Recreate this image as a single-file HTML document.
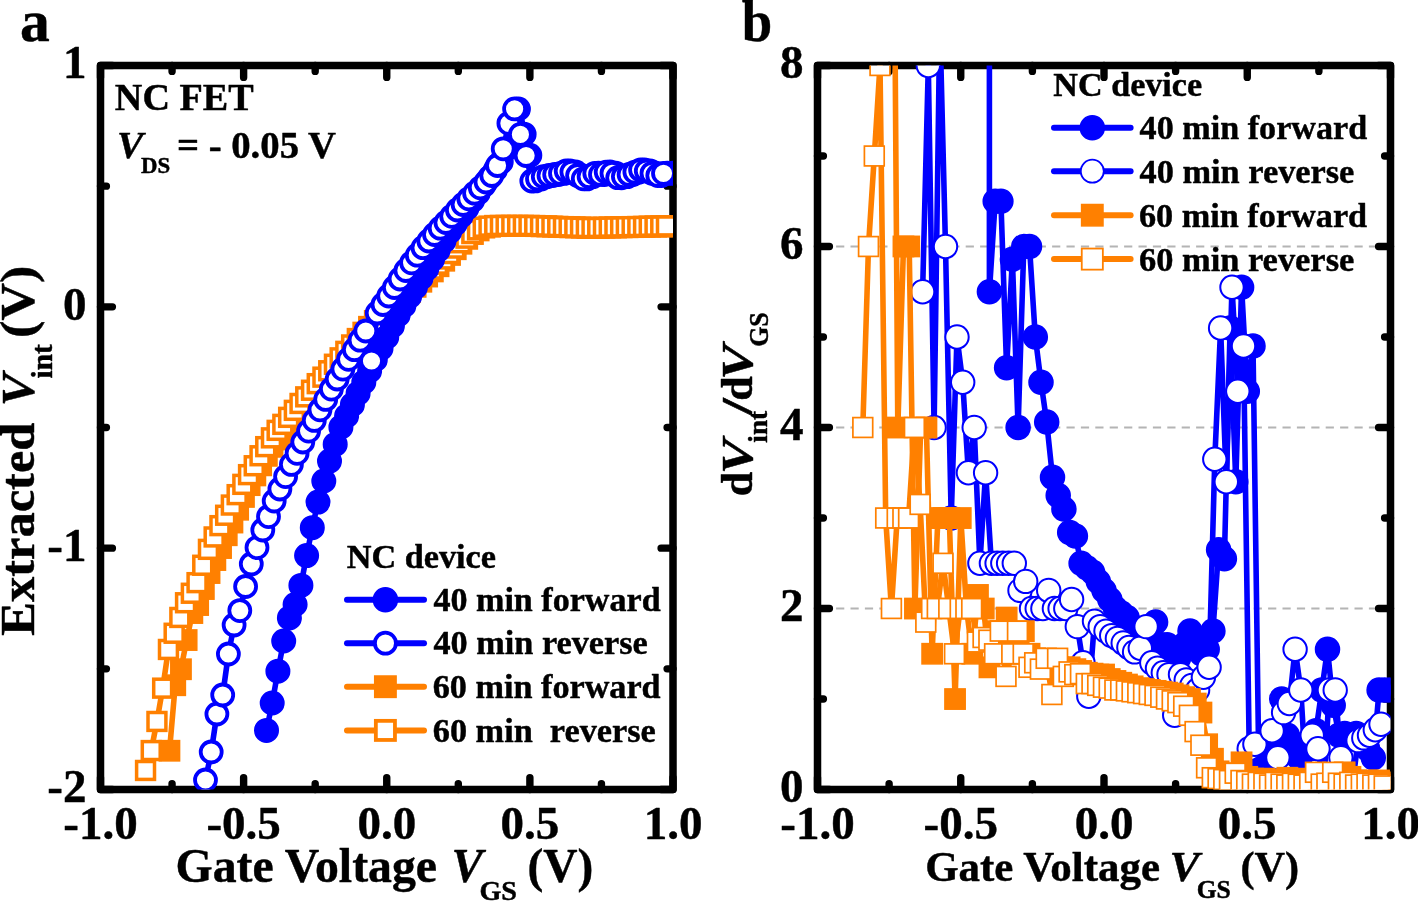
<!DOCTYPE html>
<html><head><meta charset="utf-8"><title>Figure</title><style>html,body{margin:0;padding:0;background:#fff}svg{display:block}</style></head><body>
<svg width="1418" height="901" viewBox="0 0 1418 901" font-family="'Liberation Serif', serif" font-weight="bold" stroke-linejoin="round">
<style>text{stroke:#000;stroke-width:0.45px}</style>
<rect width="1418" height="901" fill="#fff"/>
<defs>
<clipPath id="ca"><rect x="100.5" y="65.5" width="572.5" height="724.0"/></clipPath>
<clipPath id="cb"><rect x="817.5" y="65.5" width="573.0" height="724.0"/></clipPath>
</defs>
<line x1="817.5" x2="1390.5" y1="608.5" y2="608.5" stroke="#b4b4b4" stroke-width="1.8" stroke-dasharray="8.2 6.2" stroke-dashoffset="10.2"/>
<line x1="817.5" x2="1390.5" y1="427.5" y2="427.5" stroke="#b4b4b4" stroke-width="1.8" stroke-dasharray="8.2 6.2" stroke-dashoffset="10.2"/>
<line x1="817.5" x2="1390.5" y1="246.5" y2="246.5" stroke="#b4b4b4" stroke-width="1.8" stroke-dasharray="8.2 6.2" stroke-dashoffset="10.2"/>
<path d="M100.50 789.50v-11.9M100.50 65.50v11.9M243.62 789.50v-11.9M243.62 65.50v11.9M386.75 789.50v-11.9M386.75 65.50v11.9M529.88 789.50v-11.9M529.88 65.50v11.9M673.00 789.50v-11.9M673.00 65.50v11.9M172.06 789.50v-5.9M172.06 65.50v5.9M315.19 789.50v-5.9M315.19 65.50v5.9M458.31 789.50v-5.9M458.31 65.50v5.9M601.44 789.50v-5.9M601.44 65.50v5.9M100.50 65.50h11.9M673.00 65.50h-11.9M100.50 306.83h11.9M673.00 306.83h-11.9M100.50 548.17h11.9M673.00 548.17h-11.9M100.50 789.50h11.9M673.00 789.50h-11.9M100.50 186.17h5.9M673.00 186.17h-5.9M100.50 427.50h5.9M673.00 427.50h-5.9M100.50 668.83h5.9M673.00 668.83h-5.9" stroke="#000" stroke-width="7.4" stroke-linecap="round" fill="none"/>
<rect x="100.5" y="65.5" width="572.5" height="724.0" fill="none" stroke="#000" stroke-width="7.5" stroke-linejoin="round"/>
<path d="M817.50 789.50v-11.9M817.50 65.50v11.9M960.75 789.50v-11.9M960.75 65.50v11.9M1104.00 789.50v-11.9M1104.00 65.50v11.9M1247.25 789.50v-11.9M1247.25 65.50v11.9M1390.50 789.50v-11.9M1390.50 65.50v11.9M889.12 789.50v-5.9M889.12 65.50v5.9M1032.38 789.50v-5.9M1032.38 65.50v5.9M1175.62 789.50v-5.9M1175.62 65.50v5.9M1318.88 789.50v-5.9M1318.88 65.50v5.9M817.50 789.50h11.9M1390.50 789.50h-11.9M817.50 608.50h11.9M1390.50 608.50h-11.9M817.50 427.50h11.9M1390.50 427.50h-11.9M817.50 246.50h11.9M1390.50 246.50h-11.9M817.50 65.50h11.9M1390.50 65.50h-11.9M817.50 699.00h5.9M1390.50 699.00h-5.9M817.50 518.00h5.9M1390.50 518.00h-5.9M817.50 337.00h5.9M1390.50 337.00h-5.9M817.50 156.00h5.9M1390.50 156.00h-5.9" stroke="#000" stroke-width="7.4" stroke-linecap="round" fill="none"/>
<rect x="817.5" y="65.5" width="573.0" height="724.0" fill="none" stroke="#000" stroke-width="7.5" stroke-linejoin="round"/>
<g clip-path="url(#ca)">
<path d="M169.5 750.7 L175.2 685.3 L180.9 669.3 L186.7 640.0 L192.4 613.0 L198.1 605.0 L203.8 589.0 L209.6 573.0 L215.3 560.0 L221.0 548.1 L226.8 535.3 L232.5 522.5 L238.2 509.8 L243.9 497.0 L249.6 485.1 L255.4 475.5 L261.1 465.4 L266.8 455.9 L272.6 446.9 L278.3 439.5 L284.0 432.9 L289.7 425.6 L295.4 418.3 L301.2 411.1 L306.9 404.3 L312.6 397.5 L318.4 390.7 L324.1 384.0 L329.8 377.3 L335.5 370.6 L341.2 363.9 L347.0 357.3 L352.7 350.6 L358.4 343.9 L364.1 337.7 L369.9 331.6 L375.6 325.5 L381.3 319.5 L387.0 313.8 L392.8 308.2 L398.5 302.5 L404.2 297.2 L409.9 292.0 L415.7 286.9 L421.4 281.7 L427.1 276.6 L432.8 271.4 L438.6 266.3 L444.3 260.7 L450.0 255.0 L455.8 249.2 L461.5 243.7 L467.2 238.9 L472.9 234.0 L478.6 230.4 L484.4 227.7 L490.1 226.7 L495.8 226.1 L501.5 226.0 L507.3 226.0 L513.0 225.9 L518.7 225.9 L524.5 225.9 L530.2 225.9 L535.9 226.1 L541.6 226.3 L547.3 226.5 L553.1 226.7 L558.8 227.0 L564.5 227.2 L570.2 227.4 L576.0 227.6 L581.7 227.8 L587.4 228.0 L593.1 228.0 L598.9 227.9 L604.6 227.8 L610.3 227.7 L616.0 227.5 L621.8 227.4 L627.5 227.3 L633.2 227.1 L639.0 227.0 L644.7 226.9 L650.4 226.8 L656.1 226.6 L661.8 226.5 L667.6 226.4 L673.3 226.4" fill="none" stroke="#ff8000" stroke-width="5.6" stroke-linejoin="round"/>
<g fill="#ff8000" stroke="#ff8000" stroke-width="1.5" stroke-linejoin="miter">
<rect x="159.3" y="740.6" width="20.30" height="20.30"/>
<rect x="165.1" y="675.1" width="20.30" height="20.30"/>
<rect x="170.8" y="659.1" width="20.30" height="20.30"/>
<rect x="176.5" y="629.9" width="20.30" height="20.30"/>
<rect x="182.2" y="602.9" width="20.30" height="20.30"/>
<rect x="188.0" y="594.9" width="20.30" height="20.30"/>
<rect x="193.7" y="578.9" width="20.30" height="20.30"/>
<rect x="199.4" y="562.9" width="20.30" height="20.30"/>
<rect x="205.2" y="549.9" width="20.30" height="20.30"/>
<rect x="210.9" y="537.9" width="20.30" height="20.30"/>
<rect x="216.6" y="525.1" width="20.30" height="20.30"/>
<rect x="222.3" y="512.4" width="20.30" height="20.30"/>
<rect x="228.0" y="499.6" width="20.30" height="20.30"/>
<rect x="233.8" y="486.8" width="20.30" height="20.30"/>
<rect x="239.5" y="475.0" width="20.30" height="20.30"/>
<rect x="245.2" y="465.3" width="20.30" height="20.30"/>
<rect x="251.0" y="455.2" width="20.30" height="20.30"/>
<rect x="256.7" y="445.7" width="20.30" height="20.30"/>
<rect x="262.4" y="436.7" width="20.30" height="20.30"/>
<rect x="268.1" y="429.4" width="20.30" height="20.30"/>
<rect x="273.9" y="422.8" width="20.30" height="20.30"/>
<rect x="279.6" y="415.5" width="20.30" height="20.30"/>
<rect x="285.3" y="408.2" width="20.30" height="20.30"/>
<rect x="291.0" y="401.0" width="20.30" height="20.30"/>
<rect x="296.8" y="394.1" width="20.30" height="20.30"/>
<rect x="302.5" y="387.3" width="20.30" height="20.30"/>
<rect x="308.2" y="380.5" width="20.30" height="20.30"/>
<rect x="313.9" y="373.8" width="20.30" height="20.30"/>
<rect x="319.6" y="367.1" width="20.30" height="20.30"/>
<rect x="325.4" y="360.5" width="20.30" height="20.30"/>
<rect x="331.1" y="353.8" width="20.30" height="20.30"/>
<rect x="336.8" y="347.1" width="20.30" height="20.30"/>
<rect x="342.6" y="340.5" width="20.30" height="20.30"/>
<rect x="348.3" y="333.8" width="20.30" height="20.30"/>
<rect x="354.0" y="327.5" width="20.30" height="20.30"/>
<rect x="359.7" y="321.4" width="20.30" height="20.30"/>
<rect x="365.5" y="315.3" width="20.30" height="20.30"/>
<rect x="371.2" y="309.3" width="20.30" height="20.30"/>
<rect x="376.9" y="303.7" width="20.30" height="20.30"/>
<rect x="382.6" y="298.0" width="20.30" height="20.30"/>
<rect x="388.4" y="292.3" width="20.30" height="20.30"/>
<rect x="394.1" y="287.0" width="20.30" height="20.30"/>
<rect x="399.8" y="281.9" width="20.30" height="20.30"/>
<rect x="405.5" y="276.7" width="20.30" height="20.30"/>
<rect x="411.2" y="271.6" width="20.30" height="20.30"/>
<rect x="417.0" y="266.4" width="20.30" height="20.30"/>
<rect x="422.7" y="261.3" width="20.30" height="20.30"/>
<rect x="428.4" y="256.1" width="20.30" height="20.30"/>
<rect x="434.1" y="250.6" width="20.30" height="20.30"/>
<rect x="439.9" y="244.8" width="20.30" height="20.30"/>
<rect x="445.6" y="239.1" width="20.30" height="20.30"/>
<rect x="451.3" y="233.6" width="20.30" height="20.30"/>
<rect x="457.1" y="228.7" width="20.30" height="20.30"/>
<rect x="462.8" y="223.9" width="20.30" height="20.30"/>
<rect x="468.5" y="220.3" width="20.30" height="20.30"/>
<rect x="474.2" y="217.5" width="20.30" height="20.30"/>
<rect x="479.9" y="216.6" width="20.30" height="20.30"/>
<rect x="485.7" y="216.0" width="20.30" height="20.30"/>
<rect x="491.4" y="215.8" width="20.30" height="20.30"/>
<rect x="497.1" y="215.8" width="20.30" height="20.30"/>
<rect x="502.9" y="215.8" width="20.30" height="20.30"/>
<rect x="508.6" y="215.8" width="20.30" height="20.30"/>
<rect x="514.3" y="215.8" width="20.30" height="20.30"/>
<rect x="520.0" y="215.8" width="20.30" height="20.30"/>
<rect x="525.8" y="216.0" width="20.30" height="20.30"/>
<rect x="531.5" y="216.2" width="20.30" height="20.30"/>
<rect x="537.2" y="216.4" width="20.30" height="20.30"/>
<rect x="542.9" y="216.6" width="20.30" height="20.30"/>
<rect x="548.6" y="216.8" width="20.30" height="20.30"/>
<rect x="554.4" y="217.0" width="20.30" height="20.30"/>
<rect x="560.1" y="217.2" width="20.30" height="20.30"/>
<rect x="565.8" y="217.4" width="20.30" height="20.30"/>
<rect x="571.6" y="217.6" width="20.30" height="20.30"/>
<rect x="577.3" y="217.9" width="20.30" height="20.30"/>
<rect x="583.0" y="217.9" width="20.30" height="20.30"/>
<rect x="588.7" y="217.8" width="20.30" height="20.30"/>
<rect x="594.4" y="217.6" width="20.30" height="20.30"/>
<rect x="600.2" y="217.5" width="20.30" height="20.30"/>
<rect x="605.9" y="217.4" width="20.30" height="20.30"/>
<rect x="611.6" y="217.2" width="20.30" height="20.30"/>
<rect x="617.4" y="217.1" width="20.30" height="20.30"/>
<rect x="623.1" y="217.0" width="20.30" height="20.30"/>
<rect x="628.8" y="216.9" width="20.30" height="20.30"/>
<rect x="634.5" y="216.7" width="20.30" height="20.30"/>
<rect x="640.2" y="216.6" width="20.30" height="20.30"/>
<rect x="646.0" y="216.5" width="20.30" height="20.30"/>
<rect x="651.7" y="216.4" width="20.30" height="20.30"/>
<rect x="657.4" y="216.2" width="20.30" height="20.30"/>
<rect x="663.1" y="216.2" width="20.30" height="20.30"/>
</g></g>
<g clip-path="url(#ca)">
<path d="M145.5 770.5 L151.2 750.6 L156.9 721.5 L162.7 688.1 L168.4 649.5 L174.1 633.2 L179.8 617.4 L185.6 602.8 L191.3 593.3 L197.0 582.6 L202.8 565.3 L208.5 549.3 L214.2 537.0 L219.9 525.7 L225.6 515.3 L231.4 505.0 L237.1 494.7 L242.8 484.4 L248.6 474.6 L254.3 465.8 L260.0 455.8 L265.7 446.6 L271.4 437.8 L277.2 430.4 L282.9 424.3 L288.6 417.3 L294.4 410.4 L300.1 403.4 L305.8 396.8 L311.5 390.2 L317.2 383.7 L323.0 377.2 L328.7 370.7 L334.4 364.3 L340.1 357.8 L345.9 351.4 L351.6 344.9 L357.3 338.5 L363.0 332.4 L368.8 326.5 L374.5 320.6 L380.2 314.8 L385.9 309.3 L391.7 303.9 L397.4 298.5 L403.1 293.3 L408.8 288.5 L414.6 283.6 L420.3 278.7 L426.0 273.9 L431.8 269.0 L437.5 264.1 L443.2 259.0 L448.9 253.5 L454.6 248.1 L460.4 242.7 L466.1 238.1 L471.8 233.5 L477.5 229.9 L483.3 227.3 L489.0 226.1 L494.7 225.5 L500.4 225.5 L506.2 225.5 L511.9 225.5 L517.6 225.4 L523.3 225.4 L529.1 225.4 L534.8 225.6 L540.5 225.8 L546.2 226.0 L552.0 226.2 L557.7 226.4 L563.4 226.6 L569.1 226.8 L574.9 227.0 L580.6 227.3 L586.3 227.5 L592.0 227.6 L597.8 227.4 L603.5 227.3 L609.2 227.2 L615.0 227.0 L620.7 226.9 L626.4 226.8 L632.1 226.7 L637.8 226.5 L643.6 226.4 L649.3 226.3 L655.0 226.2 L660.8 226.0 L666.5 225.9" fill="none" stroke="#ff8000" stroke-width="5.6" stroke-linejoin="round"/>
<g fill="#fff" stroke="#ff8000" stroke-width="3.5" stroke-linejoin="miter">
<rect x="136.6" y="761.5" width="17.90" height="17.90"/>
<rect x="142.3" y="741.6" width="17.90" height="17.90"/>
<rect x="148.0" y="712.5" width="17.90" height="17.90"/>
<rect x="153.7" y="679.2" width="17.90" height="17.90"/>
<rect x="159.5" y="640.5" width="17.90" height="17.90"/>
<rect x="165.2" y="624.3" width="17.90" height="17.90"/>
<rect x="170.9" y="608.5" width="17.90" height="17.90"/>
<rect x="176.6" y="593.8" width="17.90" height="17.90"/>
<rect x="182.4" y="584.3" width="17.90" height="17.90"/>
<rect x="188.1" y="573.7" width="17.90" height="17.90"/>
<rect x="193.8" y="556.3" width="17.90" height="17.90"/>
<rect x="199.5" y="540.4" width="17.90" height="17.90"/>
<rect x="205.2" y="528.0" width="17.90" height="17.90"/>
<rect x="211.0" y="516.7" width="17.90" height="17.90"/>
<rect x="216.7" y="506.3" width="17.90" height="17.90"/>
<rect x="222.4" y="496.1" width="17.90" height="17.90"/>
<rect x="228.2" y="485.7" width="17.90" height="17.90"/>
<rect x="233.9" y="475.4" width="17.90" height="17.90"/>
<rect x="239.6" y="465.7" width="17.90" height="17.90"/>
<rect x="245.3" y="456.8" width="17.90" height="17.90"/>
<rect x="251.1" y="446.8" width="17.90" height="17.90"/>
<rect x="256.8" y="437.7" width="17.90" height="17.90"/>
<rect x="262.5" y="428.9" width="17.90" height="17.90"/>
<rect x="268.2" y="421.4" width="17.90" height="17.90"/>
<rect x="273.9" y="415.4" width="17.90" height="17.90"/>
<rect x="279.7" y="408.4" width="17.90" height="17.90"/>
<rect x="285.4" y="401.4" width="17.90" height="17.90"/>
<rect x="291.1" y="394.5" width="17.90" height="17.90"/>
<rect x="296.8" y="387.9" width="17.90" height="17.90"/>
<rect x="302.6" y="381.3" width="17.90" height="17.90"/>
<rect x="308.3" y="374.7" width="17.90" height="17.90"/>
<rect x="314.0" y="368.2" width="17.90" height="17.90"/>
<rect x="319.8" y="361.8" width="17.90" height="17.90"/>
<rect x="325.5" y="355.3" width="17.90" height="17.90"/>
<rect x="331.2" y="348.9" width="17.90" height="17.90"/>
<rect x="336.9" y="342.4" width="17.90" height="17.90"/>
<rect x="342.7" y="336.0" width="17.90" height="17.90"/>
<rect x="348.4" y="329.6" width="17.90" height="17.90"/>
<rect x="354.1" y="323.4" width="17.90" height="17.90"/>
<rect x="359.8" y="317.6" width="17.90" height="17.90"/>
<rect x="365.6" y="311.7" width="17.90" height="17.90"/>
<rect x="371.3" y="305.8" width="17.90" height="17.90"/>
<rect x="377.0" y="300.4" width="17.90" height="17.90"/>
<rect x="382.7" y="295.0" width="17.90" height="17.90"/>
<rect x="388.4" y="289.5" width="17.90" height="17.90"/>
<rect x="394.2" y="284.4" width="17.90" height="17.90"/>
<rect x="399.9" y="279.5" width="17.90" height="17.90"/>
<rect x="405.6" y="274.7" width="17.90" height="17.90"/>
<rect x="411.3" y="269.8" width="17.90" height="17.90"/>
<rect x="417.1" y="264.9" width="17.90" height="17.90"/>
<rect x="422.8" y="260.1" width="17.90" height="17.90"/>
<rect x="428.5" y="255.2" width="17.90" height="17.90"/>
<rect x="434.2" y="250.0" width="17.90" height="17.90"/>
<rect x="440.0" y="244.6" width="17.90" height="17.90"/>
<rect x="445.7" y="239.1" width="17.90" height="17.90"/>
<rect x="451.4" y="233.8" width="17.90" height="17.90"/>
<rect x="457.1" y="229.2" width="17.90" height="17.90"/>
<rect x="462.9" y="224.6" width="17.90" height="17.90"/>
<rect x="468.6" y="220.9" width="17.90" height="17.90"/>
<rect x="474.3" y="218.3" width="17.90" height="17.90"/>
<rect x="480.1" y="217.2" width="17.90" height="17.90"/>
<rect x="485.8" y="216.6" width="17.90" height="17.90"/>
<rect x="491.5" y="216.5" width="17.90" height="17.90"/>
<rect x="497.2" y="216.5" width="17.90" height="17.90"/>
<rect x="502.9" y="216.5" width="17.90" height="17.90"/>
<rect x="508.7" y="216.5" width="17.90" height="17.90"/>
<rect x="514.4" y="216.5" width="17.90" height="17.90"/>
<rect x="520.1" y="216.5" width="17.90" height="17.90"/>
<rect x="525.8" y="216.6" width="17.90" height="17.90"/>
<rect x="531.6" y="216.8" width="17.90" height="17.90"/>
<rect x="537.3" y="217.0" width="17.90" height="17.90"/>
<rect x="543.0" y="217.3" width="17.90" height="17.90"/>
<rect x="548.8" y="217.5" width="17.90" height="17.90"/>
<rect x="554.5" y="217.7" width="17.90" height="17.90"/>
<rect x="560.2" y="217.9" width="17.90" height="17.90"/>
<rect x="565.9" y="218.1" width="17.90" height="17.90"/>
<rect x="571.6" y="218.3" width="17.90" height="17.90"/>
<rect x="577.4" y="218.5" width="17.90" height="17.90"/>
<rect x="583.1" y="218.6" width="17.90" height="17.90"/>
<rect x="588.8" y="218.5" width="17.90" height="17.90"/>
<rect x="594.5" y="218.4" width="17.90" height="17.90"/>
<rect x="600.3" y="218.2" width="17.90" height="17.90"/>
<rect x="606.0" y="218.1" width="17.90" height="17.90"/>
<rect x="611.7" y="218.0" width="17.90" height="17.90"/>
<rect x="617.4" y="217.8" width="17.90" height="17.90"/>
<rect x="623.2" y="217.7" width="17.90" height="17.90"/>
<rect x="628.9" y="217.6" width="17.90" height="17.90"/>
<rect x="634.6" y="217.5" width="17.90" height="17.90"/>
<rect x="640.3" y="217.3" width="17.90" height="17.90"/>
<rect x="646.1" y="217.2" width="17.90" height="17.90"/>
<rect x="651.8" y="217.1" width="17.90" height="17.90"/>
<rect x="657.5" y="217.0" width="17.90" height="17.90"/>
</g></g>
<g clip-path="url(#ca)">
<path d="M266.5 730.4 L272.2 703.0 L277.9 671.2 L283.7 641.0 L289.4 617.9 L295.1 604.5 L300.9 585.4 L306.6 555.6 L312.3 527.7 L318.0 502.1 L323.8 481.0 L329.5 461.1 L335.2 444.4 L340.9 427.2 L346.6 415.9 L352.4 404.7 L358.1 393.4 L363.8 382.2 L369.6 370.9 L375.3 359.7 L381.0 348.4 L386.7 337.2 L392.4 325.9 L398.2 314.9 L403.9 305.7 L409.6 296.4 L415.4 287.2 L421.1 277.9 L426.8 268.7 L432.5 259.5 L438.2 250.2 L444.0 241.0 L449.7 231.7 L455.4 223.6 L461.1 215.9 L466.9 208.2 L472.6 200.5 L478.3 192.8 L484.0 185.1 L489.8 177.4 L495.5 169.7 L501.2 162.0 L506.9 148.9 L512.7 123.5 L518.4 109.0 L524.1 134.2 L529.8 155.3 L535.6 180.8 L541.3 178.8 L547.0 176.6 L552.8 175.5 L558.5 174.4 L564.2 173.3 L569.9 171.0 L575.6 172.1 L581.4 175.5 L587.1 178.8 L592.8 176.6 L598.5 173.3 L604.3 174.4 L610.0 172.1 L615.7 173.3 L621.5 177.7 L627.2 176.6 L632.9 174.4 L638.6 172.1 L644.3 170.0 L650.1 171.0 L655.8 173.3 L661.5 175.5 L667.2 173.3 L673.0 173.3" fill="none" stroke="#0000ff" stroke-width="5.6" stroke-linejoin="round"/>
<g fill="#0000ff" stroke="#0000ff" stroke-width="1.5" stroke-linejoin="miter">
<circle cx="266.5" cy="730.4" r="11.75"/>
<circle cx="272.2" cy="703.0" r="11.75"/>
<circle cx="277.9" cy="671.2" r="11.75"/>
<circle cx="283.7" cy="641.0" r="11.75"/>
<circle cx="289.4" cy="617.9" r="11.75"/>
<circle cx="295.1" cy="604.5" r="11.75"/>
<circle cx="300.9" cy="585.4" r="11.75"/>
<circle cx="306.6" cy="555.6" r="11.75"/>
<circle cx="312.3" cy="527.7" r="11.75"/>
<circle cx="318.0" cy="502.1" r="11.75"/>
<circle cx="323.8" cy="481.0" r="11.75"/>
<circle cx="329.5" cy="461.1" r="11.75"/>
<circle cx="335.2" cy="444.4" r="11.75"/>
<circle cx="340.9" cy="427.2" r="11.75"/>
<circle cx="346.6" cy="415.9" r="11.75"/>
<circle cx="352.4" cy="404.7" r="11.75"/>
<circle cx="358.1" cy="393.4" r="11.75"/>
<circle cx="363.8" cy="382.2" r="11.75"/>
<circle cx="369.6" cy="370.9" r="11.75"/>
<circle cx="375.3" cy="359.7" r="11.75"/>
<circle cx="381.0" cy="348.4" r="11.75"/>
<circle cx="386.7" cy="337.2" r="11.75"/>
<circle cx="392.4" cy="325.9" r="11.75"/>
<circle cx="398.2" cy="314.9" r="11.75"/>
<circle cx="403.9" cy="305.7" r="11.75"/>
<circle cx="409.6" cy="296.4" r="11.75"/>
<circle cx="415.4" cy="287.2" r="11.75"/>
<circle cx="421.1" cy="277.9" r="11.75"/>
<circle cx="426.8" cy="268.7" r="11.75"/>
<circle cx="432.5" cy="259.5" r="11.75"/>
<circle cx="438.2" cy="250.2" r="11.75"/>
<circle cx="444.0" cy="241.0" r="11.75"/>
<circle cx="449.7" cy="231.7" r="11.75"/>
<circle cx="455.4" cy="223.6" r="11.75"/>
<circle cx="461.1" cy="215.9" r="11.75"/>
<circle cx="466.9" cy="208.2" r="11.75"/>
<circle cx="472.6" cy="200.5" r="11.75"/>
<circle cx="478.3" cy="192.8" r="11.75"/>
<circle cx="484.0" cy="185.1" r="11.75"/>
<circle cx="489.8" cy="177.4" r="11.75"/>
<circle cx="495.5" cy="169.7" r="11.75"/>
<circle cx="501.2" cy="162.0" r="11.75"/>
<circle cx="506.9" cy="148.9" r="11.75"/>
<circle cx="512.7" cy="123.5" r="11.75"/>
<circle cx="518.4" cy="109.0" r="11.75"/>
<circle cx="524.1" cy="134.2" r="11.75"/>
<circle cx="529.8" cy="155.3" r="11.75"/>
<circle cx="535.6" cy="180.8" r="11.75"/>
<circle cx="541.3" cy="178.8" r="11.75"/>
<circle cx="547.0" cy="176.6" r="11.75"/>
<circle cx="552.8" cy="175.5" r="11.75"/>
<circle cx="558.5" cy="174.4" r="11.75"/>
<circle cx="564.2" cy="173.3" r="11.75"/>
<circle cx="569.9" cy="171.0" r="11.75"/>
<circle cx="575.6" cy="172.1" r="11.75"/>
<circle cx="581.4" cy="175.5" r="11.75"/>
<circle cx="587.1" cy="178.8" r="11.75"/>
<circle cx="592.8" cy="176.6" r="11.75"/>
<circle cx="598.5" cy="173.3" r="11.75"/>
<circle cx="604.3" cy="174.4" r="11.75"/>
<circle cx="610.0" cy="172.1" r="11.75"/>
<circle cx="615.7" cy="173.3" r="11.75"/>
<circle cx="621.5" cy="177.7" r="11.75"/>
<circle cx="627.2" cy="176.6" r="11.75"/>
<circle cx="632.9" cy="174.4" r="11.75"/>
<circle cx="638.6" cy="172.1" r="11.75"/>
<circle cx="644.3" cy="170.0" r="11.75"/>
<circle cx="650.1" cy="171.0" r="11.75"/>
<circle cx="655.8" cy="173.3" r="11.75"/>
<circle cx="661.5" cy="175.5" r="11.75"/>
<circle cx="667.2" cy="173.3" r="11.75"/>
<circle cx="673.0" cy="173.3" r="11.75"/>
</g></g>
<g clip-path="url(#ca)">
<path d="M205.5 780.0 L211.2 752.0 L216.9 714.0 L222.7 695.0 L228.4 654.0 L234.1 625.0 L239.8 610.6 L245.6 586.5 L251.3 564.0 L257.0 547.6 L262.8 530.0 L268.5 516.6 L274.2 501.0 L279.9 489.0 L285.6 476.6 L291.4 464.4 L297.1 453.3 L302.8 442.0 L308.6 431.1 L314.3 420.4 L320.0 409.8 L325.7 399.4 L331.4 389.1 L337.2 379.0 L342.9 369.1 L348.6 359.3 L354.4 349.7 L360.1 340.2 L365.8 331.0 L371.5 361.0 L377.2 313.0 L383.0 304.5 L388.7 296.0 L394.4 287.5 L400.1 279.0 L405.9 270.5 L411.6 262.8 L417.3 255.2 L423.0 247.7 L428.8 241.0 L434.5 234.5 L440.2 228.2 L445.9 222.5 L451.7 216.3 L457.4 210.0 L463.1 204.5 L468.8 198.8 L474.6 193.2 L480.3 187.8 L486.0 182.0 L491.8 175.5 L497.5 165.5 L503.2 148.8 L508.9 123.3 L514.6 108.9 L520.4 134.4 L526.1 155.5 L531.8 181.0 L537.5 178.8 L543.3 176.6 L549.0 175.5 L554.7 174.4 L560.5 173.3 L566.2 171.0 L571.9 172.1 L577.6 175.5 L583.3 178.8 L589.1 176.6 L594.8 173.3 L600.5 174.4 L606.2 172.1 L612.0 173.3 L617.7 177.7 L623.4 176.6 L629.1 174.4 L634.9 172.1 L640.6 170.0 L646.3 171.0 L652.0 173.3 L657.8 175.5 L663.5 173.3" fill="none" stroke="#0000ff" stroke-width="5.6" stroke-linejoin="round"/>
<g fill="#fff" stroke="#0000ff" stroke-width="3.8" stroke-linejoin="miter">
<circle cx="205.5" cy="780.0" r="10.50"/>
<circle cx="211.2" cy="752.0" r="10.50"/>
<circle cx="216.9" cy="714.0" r="10.50"/>
<circle cx="222.7" cy="695.0" r="10.50"/>
<circle cx="228.4" cy="654.0" r="10.50"/>
<circle cx="234.1" cy="625.0" r="10.50"/>
<circle cx="239.8" cy="610.6" r="10.50"/>
<circle cx="245.6" cy="586.5" r="10.50"/>
<circle cx="251.3" cy="564.0" r="10.50"/>
<circle cx="257.0" cy="547.6" r="10.50"/>
<circle cx="262.8" cy="530.0" r="10.50"/>
<circle cx="268.5" cy="516.6" r="10.50"/>
<circle cx="274.2" cy="501.0" r="10.50"/>
<circle cx="279.9" cy="489.0" r="10.50"/>
<circle cx="285.6" cy="476.6" r="10.50"/>
<circle cx="291.4" cy="464.4" r="10.50"/>
<circle cx="297.1" cy="453.3" r="10.50"/>
<circle cx="302.8" cy="442.0" r="10.50"/>
<circle cx="308.6" cy="431.1" r="10.50"/>
<circle cx="314.3" cy="420.4" r="10.50"/>
<circle cx="320.0" cy="409.8" r="10.50"/>
<circle cx="325.7" cy="399.4" r="10.50"/>
<circle cx="331.4" cy="389.1" r="10.50"/>
<circle cx="337.2" cy="379.0" r="10.50"/>
<circle cx="342.9" cy="369.1" r="10.50"/>
<circle cx="348.6" cy="359.3" r="10.50"/>
<circle cx="354.4" cy="349.7" r="10.50"/>
<circle cx="360.1" cy="340.2" r="10.50"/>
<circle cx="365.8" cy="331.0" r="10.50"/>
<circle cx="371.5" cy="361.0" r="10.50"/>
<circle cx="377.2" cy="313.0" r="10.50"/>
<circle cx="383.0" cy="304.5" r="10.50"/>
<circle cx="388.7" cy="296.0" r="10.50"/>
<circle cx="394.4" cy="287.5" r="10.50"/>
<circle cx="400.1" cy="279.0" r="10.50"/>
<circle cx="405.9" cy="270.5" r="10.50"/>
<circle cx="411.6" cy="262.8" r="10.50"/>
<circle cx="417.3" cy="255.2" r="10.50"/>
<circle cx="423.0" cy="247.7" r="10.50"/>
<circle cx="428.8" cy="241.0" r="10.50"/>
<circle cx="434.5" cy="234.5" r="10.50"/>
<circle cx="440.2" cy="228.2" r="10.50"/>
<circle cx="445.9" cy="222.5" r="10.50"/>
<circle cx="451.7" cy="216.3" r="10.50"/>
<circle cx="457.4" cy="210.0" r="10.50"/>
<circle cx="463.1" cy="204.5" r="10.50"/>
<circle cx="468.8" cy="198.8" r="10.50"/>
<circle cx="474.6" cy="193.2" r="10.50"/>
<circle cx="480.3" cy="187.8" r="10.50"/>
<circle cx="486.0" cy="182.0" r="10.50"/>
<circle cx="491.8" cy="175.5" r="10.50"/>
<circle cx="497.5" cy="165.5" r="10.50"/>
<circle cx="503.2" cy="148.8" r="10.50"/>
<circle cx="508.9" cy="123.3" r="10.50"/>
<circle cx="514.6" cy="108.9" r="10.50"/>
<circle cx="520.4" cy="134.4" r="10.50"/>
<circle cx="526.1" cy="155.5" r="10.50"/>
<circle cx="531.8" cy="181.0" r="10.50"/>
<circle cx="537.5" cy="178.8" r="10.50"/>
<circle cx="543.3" cy="176.6" r="10.50"/>
<circle cx="549.0" cy="175.5" r="10.50"/>
<circle cx="554.7" cy="174.4" r="10.50"/>
<circle cx="560.5" cy="173.3" r="10.50"/>
<circle cx="566.2" cy="171.0" r="10.50"/>
<circle cx="571.9" cy="172.1" r="10.50"/>
<circle cx="577.6" cy="175.5" r="10.50"/>
<circle cx="583.3" cy="178.8" r="10.50"/>
<circle cx="589.1" cy="176.6" r="10.50"/>
<circle cx="594.8" cy="173.3" r="10.50"/>
<circle cx="600.5" cy="174.4" r="10.50"/>
<circle cx="606.2" cy="172.1" r="10.50"/>
<circle cx="612.0" cy="173.3" r="10.50"/>
<circle cx="617.7" cy="177.7" r="10.50"/>
<circle cx="623.4" cy="176.6" r="10.50"/>
<circle cx="629.1" cy="174.4" r="10.50"/>
<circle cx="634.9" cy="172.1" r="10.50"/>
<circle cx="640.6" cy="170.0" r="10.50"/>
<circle cx="646.3" cy="171.0" r="10.50"/>
<circle cx="652.0" cy="173.3" r="10.50"/>
<circle cx="657.8" cy="175.5" r="10.50"/>
<circle cx="663.5" cy="173.3" r="10.50"/>
</g></g>
<g clip-path="url(#cb)">
<path d="M989.4 -1925.5 L989.4 291.8 L995.2 201.2 L1000.9 201.2 L1006.6 367.8 L1012.4 259.2 L1018.1 427.5 L1023.8 246.5 L1029.5 246.5 L1035.3 337.0 L1041.0 382.2 L1046.7 422.1 L1052.5 477.3 L1058.2 495.4 L1063.9 508.9 L1069.7 532.5 L1075.4 536.1 L1081.1 563.2 L1086.8 567.8 L1092.6 572.3 L1098.3 581.4 L1104.0 590.4 L1109.8 599.5 L1115.5 608.5 L1121.2 613.0 L1127.0 617.5 L1132.7 626.6 L1138.4 631.1 L1144.1 635.6 L1149.9 640.2 L1155.6 622.1 L1161.3 644.7 L1167.1 644.7 L1172.8 653.8 L1178.5 658.3 L1184.2 644.7 L1190.0 631.1 L1195.7 642.0 L1201.4 653.8 L1207.2 649.2 L1212.9 631.1 L1218.6 549.7 L1224.4 558.7 L1230.1 328.0 L1235.8 481.8 L1241.6 287.2 L1247.3 391.3 L1253.0 346.0 L1258.7 757.8 L1264.5 762.4 L1270.2 753.3 L1275.9 748.8 L1281.7 699.0 L1287.4 735.2 L1293.1 748.8 L1298.9 757.8 L1304.6 744.2 L1310.3 748.8 L1316.0 730.7 L1321.8 690.0 L1327.5 649.2 L1333.2 705.3 L1339.0 735.2 L1344.7 733.4 L1350.4 735.2 L1356.2 733.4 L1361.9 739.7 L1367.6 748.8 L1373.3 757.8 L1379.1 690.0 L1384.8 690.0 L1390.5 690.0" fill="none" stroke="#0000ff" stroke-width="5.6" stroke-linejoin="round"/>
<g fill="#0000ff" stroke="#0000ff" stroke-width="1.5" stroke-linejoin="miter">
<circle cx="989.4" cy="291.8" r="12.00"/>
<circle cx="995.2" cy="201.2" r="12.00"/>
<circle cx="1000.9" cy="201.2" r="12.00"/>
<circle cx="1006.6" cy="367.8" r="12.00"/>
<circle cx="1012.4" cy="259.2" r="12.00"/>
<circle cx="1018.1" cy="427.5" r="12.00"/>
<circle cx="1023.8" cy="246.5" r="12.00"/>
<circle cx="1029.5" cy="246.5" r="12.00"/>
<circle cx="1035.3" cy="337.0" r="12.00"/>
<circle cx="1041.0" cy="382.2" r="12.00"/>
<circle cx="1046.7" cy="422.1" r="12.00"/>
<circle cx="1052.5" cy="477.3" r="12.00"/>
<circle cx="1058.2" cy="495.4" r="12.00"/>
<circle cx="1063.9" cy="508.9" r="12.00"/>
<circle cx="1069.7" cy="532.5" r="12.00"/>
<circle cx="1075.4" cy="536.1" r="12.00"/>
<circle cx="1081.1" cy="563.2" r="12.00"/>
<circle cx="1086.8" cy="567.8" r="12.00"/>
<circle cx="1092.6" cy="572.3" r="12.00"/>
<circle cx="1098.3" cy="581.4" r="12.00"/>
<circle cx="1104.0" cy="590.4" r="12.00"/>
<circle cx="1109.8" cy="599.5" r="12.00"/>
<circle cx="1115.5" cy="608.5" r="12.00"/>
<circle cx="1121.2" cy="613.0" r="12.00"/>
<circle cx="1127.0" cy="617.5" r="12.00"/>
<circle cx="1132.7" cy="626.6" r="12.00"/>
<circle cx="1138.4" cy="631.1" r="12.00"/>
<circle cx="1144.1" cy="635.6" r="12.00"/>
<circle cx="1149.9" cy="640.2" r="12.00"/>
<circle cx="1155.6" cy="622.1" r="12.00"/>
<circle cx="1161.3" cy="644.7" r="12.00"/>
<circle cx="1167.1" cy="644.7" r="12.00"/>
<circle cx="1172.8" cy="653.8" r="12.00"/>
<circle cx="1178.5" cy="658.3" r="12.00"/>
<circle cx="1184.2" cy="644.7" r="12.00"/>
<circle cx="1190.0" cy="631.1" r="12.00"/>
<circle cx="1195.7" cy="642.0" r="12.00"/>
<circle cx="1201.4" cy="653.8" r="12.00"/>
<circle cx="1207.2" cy="649.2" r="12.00"/>
<circle cx="1212.9" cy="631.1" r="12.00"/>
<circle cx="1218.6" cy="549.7" r="12.00"/>
<circle cx="1224.4" cy="558.7" r="12.00"/>
<circle cx="1230.1" cy="328.0" r="12.00"/>
<circle cx="1235.8" cy="481.8" r="12.00"/>
<circle cx="1241.6" cy="287.2" r="12.00"/>
<circle cx="1247.3" cy="391.3" r="12.00"/>
<circle cx="1253.0" cy="346.0" r="12.00"/>
<circle cx="1258.7" cy="757.8" r="12.00"/>
<circle cx="1264.5" cy="762.4" r="12.00"/>
<circle cx="1270.2" cy="753.3" r="12.00"/>
<circle cx="1275.9" cy="748.8" r="12.00"/>
<circle cx="1281.7" cy="699.0" r="12.00"/>
<circle cx="1287.4" cy="735.2" r="12.00"/>
<circle cx="1293.1" cy="748.8" r="12.00"/>
<circle cx="1298.9" cy="757.8" r="12.00"/>
<circle cx="1304.6" cy="744.2" r="12.00"/>
<circle cx="1310.3" cy="748.8" r="12.00"/>
<circle cx="1316.0" cy="730.7" r="12.00"/>
<circle cx="1321.8" cy="690.0" r="12.00"/>
<circle cx="1327.5" cy="649.2" r="12.00"/>
<circle cx="1333.2" cy="705.3" r="12.00"/>
<circle cx="1339.0" cy="735.2" r="12.00"/>
<circle cx="1344.7" cy="733.4" r="12.00"/>
<circle cx="1350.4" cy="735.2" r="12.00"/>
<circle cx="1356.2" cy="733.4" r="12.00"/>
<circle cx="1361.9" cy="739.7" r="12.00"/>
<circle cx="1367.6" cy="748.8" r="12.00"/>
<circle cx="1373.3" cy="757.8" r="12.00"/>
<circle cx="1379.1" cy="690.0" r="12.00"/>
<circle cx="1384.8" cy="690.0" r="12.00"/>
<circle cx="1390.5" cy="690.0" r="12.00"/>
</g></g>
<g clip-path="url(#cb)">
<path d="M922.6 291.8 L928.3 65.5 L934.1 427.5 L939.8 20.2 L945.5 246.5 L951.2 518.0 L957.0 337.0 L962.7 382.2 L968.4 472.8 L974.2 427.5 L979.9 563.2 L985.6 472.8 L991.4 563.2 L997.1 563.2 L1002.8 563.2 L1008.6 563.2 L1014.3 563.2 L1020.0 590.4 L1025.7 581.4 L1031.5 608.5 L1037.2 608.5 L1042.9 608.5 L1048.7 590.4 L1054.4 608.5 L1060.1 608.5 L1065.8 608.5 L1071.6 599.5 L1077.3 626.6 L1083.0 662.8 L1088.8 696.3 L1094.5 621.2 L1100.2 626.6 L1106.0 631.1 L1111.7 635.6 L1117.4 638.4 L1123.2 642.9 L1128.9 647.4 L1134.6 651.9 L1140.3 648.3 L1146.1 626.6 L1151.8 662.8 L1157.5 668.2 L1163.3 672.8 L1169.0 674.6 L1174.7 715.3 L1180.5 674.6 L1186.2 680.0 L1191.9 685.4 L1197.6 690.0 L1203.4 677.3 L1209.1 667.3 L1214.8 459.2 L1220.6 328.0 L1226.3 481.8 L1232.0 287.2 L1237.8 391.3 L1243.5 346.0 L1249.2 748.8 L1254.9 744.2 L1260.7 785.0 L1266.4 785.0 L1272.1 730.7 L1277.9 757.8 L1283.6 712.6 L1289.3 703.5 L1295.1 649.2 L1300.8 690.0 L1306.5 785.0 L1312.2 735.2 L1318.0 748.8 L1323.7 785.0 L1329.4 690.0 L1335.2 690.0 L1340.9 757.8 L1346.6 785.0 L1352.4 785.0 L1358.1 740.6 L1363.8 737.9 L1369.5 735.2 L1375.3 729.8 L1381.0 724.3" fill="none" stroke="#0000ff" stroke-width="5.6" stroke-linejoin="round"/>
<g fill="#fff" stroke="#0000ff" stroke-width="2.0" stroke-linejoin="miter">
<circle cx="922.6" cy="291.8" r="11.70"/>
<circle cx="928.3" cy="65.5" r="11.70"/>
<circle cx="934.1" cy="427.5" r="11.70"/>
<circle cx="939.8" cy="20.2" r="11.70"/>
<circle cx="945.5" cy="246.5" r="11.70"/>
<circle cx="951.2" cy="518.0" r="11.70"/>
<circle cx="957.0" cy="337.0" r="11.70"/>
<circle cx="962.7" cy="382.2" r="11.70"/>
<circle cx="968.4" cy="472.8" r="11.70"/>
<circle cx="974.2" cy="427.5" r="11.70"/>
<circle cx="979.9" cy="563.2" r="11.70"/>
<circle cx="985.6" cy="472.8" r="11.70"/>
<circle cx="991.4" cy="563.2" r="11.70"/>
<circle cx="997.1" cy="563.2" r="11.70"/>
<circle cx="1002.8" cy="563.2" r="11.70"/>
<circle cx="1008.6" cy="563.2" r="11.70"/>
<circle cx="1014.3" cy="563.2" r="11.70"/>
<circle cx="1020.0" cy="590.4" r="11.70"/>
<circle cx="1025.7" cy="581.4" r="11.70"/>
<circle cx="1031.5" cy="608.5" r="11.70"/>
<circle cx="1037.2" cy="608.5" r="11.70"/>
<circle cx="1042.9" cy="608.5" r="11.70"/>
<circle cx="1048.7" cy="590.4" r="11.70"/>
<circle cx="1054.4" cy="608.5" r="11.70"/>
<circle cx="1060.1" cy="608.5" r="11.70"/>
<circle cx="1065.8" cy="608.5" r="11.70"/>
<circle cx="1071.6" cy="599.5" r="11.70"/>
<circle cx="1077.3" cy="626.6" r="11.70"/>
<circle cx="1083.0" cy="662.8" r="11.70"/>
<circle cx="1088.8" cy="696.3" r="11.70"/>
<circle cx="1094.5" cy="621.2" r="11.70"/>
<circle cx="1100.2" cy="626.6" r="11.70"/>
<circle cx="1106.0" cy="631.1" r="11.70"/>
<circle cx="1111.7" cy="635.6" r="11.70"/>
<circle cx="1117.4" cy="638.4" r="11.70"/>
<circle cx="1123.2" cy="642.9" r="11.70"/>
<circle cx="1128.9" cy="647.4" r="11.70"/>
<circle cx="1134.6" cy="651.9" r="11.70"/>
<circle cx="1140.3" cy="648.3" r="11.70"/>
<circle cx="1146.1" cy="626.6" r="11.70"/>
<circle cx="1151.8" cy="662.8" r="11.70"/>
<circle cx="1157.5" cy="668.2" r="11.70"/>
<circle cx="1163.3" cy="672.8" r="11.70"/>
<circle cx="1169.0" cy="674.6" r="11.70"/>
<circle cx="1174.7" cy="715.3" r="11.70"/>
<circle cx="1180.5" cy="674.6" r="11.70"/>
<circle cx="1186.2" cy="680.0" r="11.70"/>
<circle cx="1191.9" cy="685.4" r="11.70"/>
<circle cx="1197.6" cy="690.0" r="11.70"/>
<circle cx="1203.4" cy="677.3" r="11.70"/>
<circle cx="1209.1" cy="667.3" r="11.70"/>
<circle cx="1214.8" cy="459.2" r="11.70"/>
<circle cx="1220.6" cy="328.0" r="11.70"/>
<circle cx="1226.3" cy="481.8" r="11.70"/>
<circle cx="1232.0" cy="287.2" r="11.70"/>
<circle cx="1237.8" cy="391.3" r="11.70"/>
<circle cx="1243.5" cy="346.0" r="11.70"/>
<circle cx="1249.2" cy="748.8" r="11.70"/>
<circle cx="1254.9" cy="744.2" r="11.70"/>
<circle cx="1260.7" cy="785.0" r="11.70"/>
<circle cx="1266.4" cy="785.0" r="11.70"/>
<circle cx="1272.1" cy="730.7" r="11.70"/>
<circle cx="1277.9" cy="757.8" r="11.70"/>
<circle cx="1283.6" cy="712.6" r="11.70"/>
<circle cx="1289.3" cy="703.5" r="11.70"/>
<circle cx="1295.1" cy="649.2" r="11.70"/>
<circle cx="1300.8" cy="690.0" r="11.70"/>
<circle cx="1306.5" cy="785.0" r="11.70"/>
<circle cx="1312.2" cy="735.2" r="11.70"/>
<circle cx="1318.0" cy="748.8" r="11.70"/>
<circle cx="1323.7" cy="785.0" r="11.70"/>
<circle cx="1329.4" cy="690.0" r="11.70"/>
<circle cx="1335.2" cy="690.0" r="11.70"/>
<circle cx="1340.9" cy="757.8" r="11.70"/>
<circle cx="1346.6" cy="785.0" r="11.70"/>
<circle cx="1352.4" cy="785.0" r="11.70"/>
<circle cx="1358.1" cy="740.6" r="11.70"/>
<circle cx="1363.8" cy="737.9" r="11.70"/>
<circle cx="1369.5" cy="735.2" r="11.70"/>
<circle cx="1375.3" cy="729.8" r="11.70"/>
<circle cx="1381.0" cy="724.3" r="11.70"/>
</g></g>
<g clip-path="url(#cb)">
<path d="M892.0 -387.0 L897.8 427.5 L903.5 246.5 L909.2 246.5 L914.9 608.5 L920.7 427.5 L926.4 427.5 L932.1 653.8 L937.9 518.0 L943.6 518.0 L949.3 518.0 L955.1 699.0 L960.8 518.0 L966.5 608.5 L972.2 653.8 L978.0 594.9 L983.7 608.5 L989.4 667.3 L995.2 631.1 L1000.9 631.1 L1006.6 617.5 L1012.4 644.7 L1018.1 653.8 L1023.8 631.1 L1029.5 653.8 L1035.3 658.3 L1041.0 662.8 L1046.7 664.6 L1052.5 666.4 L1058.2 667.3 L1063.9 667.3 L1069.7 667.3 L1075.4 669.1 L1081.1 670.9 L1086.8 672.8 L1092.6 673.7 L1098.3 674.6 L1104.0 674.6 L1109.8 679.1 L1115.5 680.9 L1121.2 682.7 L1127.0 684.5 L1132.7 686.3 L1138.4 688.1 L1144.2 689.0 L1149.9 690.0 L1155.6 690.9 L1161.3 691.8 L1167.1 692.7 L1172.8 693.6 L1178.5 695.4 L1184.3 697.2 L1190.0 699.0 L1195.7 703.5 L1201.5 712.6 L1207.2 744.2 L1212.9 758.7 L1218.6 771.4 L1224.4 775.9 L1230.1 773.2 L1235.8 775.9 L1241.6 762.4 L1247.3 776.8 L1253.0 778.6 L1258.8 780.5 L1264.5 778.6 L1270.2 781.4 L1275.9 779.5 L1281.7 780.5 L1287.4 777.7 L1293.1 781.4 L1298.9 780.5 L1304.6 778.6 L1310.3 780.5 L1316.0 781.4 L1321.8 779.5 L1327.5 780.5 L1333.2 778.6 L1339.0 780.5 L1344.7 772.3 L1350.4 776.8 L1356.2 780.5 L1361.9 781.4 L1367.6 780.5 L1373.3 782.3 L1379.1 780.5 L1384.8 782.3 L1390.5 784.1" fill="none" stroke="#ff8000" stroke-width="5.6" stroke-linejoin="round"/>
<g fill="#ff8000" stroke="#ff8000" stroke-width="1.5" stroke-linejoin="miter">
<rect x="887.6" y="417.4" width="20.30" height="20.30"/>
<rect x="893.3" y="236.3" width="20.30" height="20.30"/>
<rect x="899.1" y="236.3" width="20.30" height="20.30"/>
<rect x="904.8" y="598.4" width="20.30" height="20.30"/>
<rect x="910.5" y="417.4" width="20.30" height="20.30"/>
<rect x="916.3" y="417.4" width="20.30" height="20.30"/>
<rect x="922.0" y="643.6" width="20.30" height="20.30"/>
<rect x="927.7" y="507.9" width="20.30" height="20.30"/>
<rect x="933.4" y="507.9" width="20.30" height="20.30"/>
<rect x="939.2" y="507.9" width="20.30" height="20.30"/>
<rect x="944.9" y="688.9" width="20.30" height="20.30"/>
<rect x="950.6" y="507.9" width="20.30" height="20.30"/>
<rect x="956.4" y="598.4" width="20.30" height="20.30"/>
<rect x="962.1" y="643.6" width="20.30" height="20.30"/>
<rect x="967.8" y="584.8" width="20.30" height="20.30"/>
<rect x="973.6" y="598.4" width="20.30" height="20.30"/>
<rect x="979.3" y="657.2" width="20.30" height="20.30"/>
<rect x="985.0" y="621.0" width="20.30" height="20.30"/>
<rect x="990.8" y="621.0" width="20.30" height="20.30"/>
<rect x="996.5" y="607.4" width="20.30" height="20.30"/>
<rect x="1002.2" y="634.6" width="20.30" height="20.30"/>
<rect x="1007.9" y="643.6" width="20.30" height="20.30"/>
<rect x="1013.7" y="621.0" width="20.30" height="20.30"/>
<rect x="1019.4" y="643.6" width="20.30" height="20.30"/>
<rect x="1025.1" y="648.1" width="20.30" height="20.30"/>
<rect x="1030.9" y="652.6" width="20.30" height="20.30"/>
<rect x="1036.6" y="654.5" width="20.30" height="20.30"/>
<rect x="1042.3" y="656.3" width="20.30" height="20.30"/>
<rect x="1048.0" y="657.2" width="20.30" height="20.30"/>
<rect x="1053.8" y="657.2" width="20.30" height="20.30"/>
<rect x="1059.5" y="657.2" width="20.30" height="20.30"/>
<rect x="1065.2" y="659.0" width="20.30" height="20.30"/>
<rect x="1071.0" y="660.8" width="20.30" height="20.30"/>
<rect x="1076.7" y="662.6" width="20.30" height="20.30"/>
<rect x="1082.4" y="663.5" width="20.30" height="20.30"/>
<rect x="1088.2" y="664.4" width="20.30" height="20.30"/>
<rect x="1093.9" y="664.4" width="20.30" height="20.30"/>
<rect x="1099.6" y="668.9" width="20.30" height="20.30"/>
<rect x="1105.3" y="670.8" width="20.30" height="20.30"/>
<rect x="1111.1" y="672.6" width="20.30" height="20.30"/>
<rect x="1116.8" y="674.4" width="20.30" height="20.30"/>
<rect x="1122.5" y="676.2" width="20.30" height="20.30"/>
<rect x="1128.3" y="678.0" width="20.30" height="20.30"/>
<rect x="1134.0" y="678.9" width="20.30" height="20.30"/>
<rect x="1139.7" y="679.8" width="20.30" height="20.30"/>
<rect x="1145.5" y="680.7" width="20.30" height="20.30"/>
<rect x="1151.2" y="681.6" width="20.30" height="20.30"/>
<rect x="1156.9" y="682.5" width="20.30" height="20.30"/>
<rect x="1162.6" y="683.4" width="20.30" height="20.30"/>
<rect x="1168.4" y="685.2" width="20.30" height="20.30"/>
<rect x="1174.1" y="687.0" width="20.30" height="20.30"/>
<rect x="1179.8" y="688.9" width="20.30" height="20.30"/>
<rect x="1185.6" y="693.4" width="20.30" height="20.30"/>
<rect x="1191.3" y="702.4" width="20.30" height="20.30"/>
<rect x="1197.0" y="734.1" width="20.30" height="20.30"/>
<rect x="1202.8" y="748.6" width="20.30" height="20.30"/>
<rect x="1208.5" y="761.2" width="20.30" height="20.30"/>
<rect x="1214.2" y="765.8" width="20.30" height="20.30"/>
<rect x="1219.9" y="763.1" width="20.30" height="20.30"/>
<rect x="1225.7" y="765.8" width="20.30" height="20.30"/>
<rect x="1231.4" y="752.2" width="20.30" height="20.30"/>
<rect x="1237.1" y="766.7" width="20.30" height="20.30"/>
<rect x="1242.9" y="768.5" width="20.30" height="20.30"/>
<rect x="1248.6" y="770.3" width="20.30" height="20.30"/>
<rect x="1254.3" y="768.5" width="20.30" height="20.30"/>
<rect x="1260.1" y="771.2" width="20.30" height="20.30"/>
<rect x="1265.8" y="769.4" width="20.30" height="20.30"/>
<rect x="1271.5" y="770.3" width="20.30" height="20.30"/>
<rect x="1277.2" y="767.6" width="20.30" height="20.30"/>
<rect x="1283.0" y="771.2" width="20.30" height="20.30"/>
<rect x="1288.7" y="770.3" width="20.30" height="20.30"/>
<rect x="1294.4" y="768.5" width="20.30" height="20.30"/>
<rect x="1300.2" y="770.3" width="20.30" height="20.30"/>
<rect x="1305.9" y="771.2" width="20.30" height="20.30"/>
<rect x="1311.6" y="769.4" width="20.30" height="20.30"/>
<rect x="1317.4" y="770.3" width="20.30" height="20.30"/>
<rect x="1323.1" y="768.5" width="20.30" height="20.30"/>
<rect x="1328.8" y="770.3" width="20.30" height="20.30"/>
<rect x="1334.5" y="762.2" width="20.30" height="20.30"/>
<rect x="1340.3" y="766.7" width="20.30" height="20.30"/>
<rect x="1346.0" y="770.3" width="20.30" height="20.30"/>
<rect x="1351.7" y="771.2" width="20.30" height="20.30"/>
<rect x="1357.5" y="770.3" width="20.30" height="20.30"/>
<rect x="1363.2" y="772.1" width="20.30" height="20.30"/>
<rect x="1368.9" y="770.3" width="20.30" height="20.30"/>
<rect x="1374.7" y="772.1" width="20.30" height="20.30"/>
<rect x="1380.4" y="773.9" width="20.30" height="20.30"/>
</g></g>
<g clip-path="url(#cb)">
<path d="M862.8 427.5 L868.5 246.5 L874.3 156.0 L880.0 65.5 L885.7 518.0 L891.4 608.5 L897.2 518.0 L902.9 518.0 L908.6 518.0 L914.4 427.5 L920.1 504.4 L925.8 622.1 L931.6 608.5 L937.3 608.5 L943.0 563.2 L948.8 608.5 L954.5 653.8 L960.2 608.5 L965.9 608.5 L971.7 608.5 L977.4 642.0 L983.1 637.5 L988.9 640.2 L994.6 653.8 L1000.3 631.1 L1006.0 676.4 L1011.8 653.8 L1017.5 631.1 L1023.2 653.8 L1029.0 667.3 L1034.7 662.8 L1040.4 669.1 L1046.2 658.3 L1051.9 694.5 L1057.6 658.3 L1063.3 676.4 L1069.1 671.9 L1074.8 674.6 L1080.5 673.7 L1086.3 683.6 L1092.0 683.6 L1097.7 685.4 L1103.5 687.2 L1109.2 688.1 L1114.9 690.0 L1120.7 690.0 L1126.4 690.9 L1132.1 691.8 L1137.8 692.7 L1143.6 693.6 L1149.3 694.5 L1155.0 695.4 L1160.8 697.2 L1166.5 699.0 L1172.2 700.8 L1178.0 702.6 L1183.7 706.2 L1189.4 715.3 L1195.1 731.6 L1200.9 745.2 L1206.6 767.8 L1212.3 777.7 L1218.1 778.6 L1223.8 779.5 L1229.5 780.5 L1235.2 773.2 L1241.0 780.5 L1246.7 781.4 L1252.4 784.1 L1258.2 782.3 L1263.9 783.2 L1269.6 785.0 L1275.4 782.3 L1281.1 784.1 L1286.8 785.0 L1292.5 783.2 L1298.3 784.1 L1304.0 785.0 L1309.7 782.3 L1315.5 772.3 L1321.2 784.1 L1326.9 783.2 L1332.7 772.3 L1338.4 783.2 L1344.1 784.1 L1349.8 782.3 L1355.6 785.0 L1361.3 784.1 L1367.0 783.2 L1372.8 785.0 L1378.5 784.1 L1384.2 785.9" fill="none" stroke="#ff8000" stroke-width="5.6" stroke-linejoin="round"/>
<g fill="#fff" stroke="#ff8000" stroke-width="1.7" stroke-linejoin="miter">
<rect x="852.9" y="417.6" width="19.80" height="19.80"/>
<rect x="858.6" y="236.6" width="19.80" height="19.80"/>
<rect x="864.4" y="146.1" width="19.80" height="19.80"/>
<rect x="870.1" y="55.6" width="19.80" height="19.80"/>
<rect x="875.8" y="508.1" width="19.80" height="19.80"/>
<rect x="881.5" y="598.6" width="19.80" height="19.80"/>
<rect x="887.3" y="508.1" width="19.80" height="19.80"/>
<rect x="893.0" y="508.1" width="19.80" height="19.80"/>
<rect x="898.7" y="508.1" width="19.80" height="19.80"/>
<rect x="904.5" y="417.6" width="19.80" height="19.80"/>
<rect x="910.2" y="494.5" width="19.80" height="19.80"/>
<rect x="915.9" y="612.2" width="19.80" height="19.80"/>
<rect x="921.7" y="598.6" width="19.80" height="19.80"/>
<rect x="927.4" y="598.6" width="19.80" height="19.80"/>
<rect x="933.1" y="553.4" width="19.80" height="19.80"/>
<rect x="938.9" y="598.6" width="19.80" height="19.80"/>
<rect x="944.6" y="643.9" width="19.80" height="19.80"/>
<rect x="950.3" y="598.6" width="19.80" height="19.80"/>
<rect x="956.0" y="598.6" width="19.80" height="19.80"/>
<rect x="961.8" y="598.6" width="19.80" height="19.80"/>
<rect x="967.5" y="632.1" width="19.80" height="19.80"/>
<rect x="973.2" y="627.6" width="19.80" height="19.80"/>
<rect x="979.0" y="630.3" width="19.80" height="19.80"/>
<rect x="984.7" y="643.9" width="19.80" height="19.80"/>
<rect x="990.4" y="621.2" width="19.80" height="19.80"/>
<rect x="996.1" y="666.5" width="19.80" height="19.80"/>
<rect x="1001.9" y="643.9" width="19.80" height="19.80"/>
<rect x="1007.6" y="621.2" width="19.80" height="19.80"/>
<rect x="1013.3" y="643.9" width="19.80" height="19.80"/>
<rect x="1019.1" y="657.4" width="19.80" height="19.80"/>
<rect x="1024.8" y="652.9" width="19.80" height="19.80"/>
<rect x="1030.5" y="659.2" width="19.80" height="19.80"/>
<rect x="1036.3" y="648.4" width="19.80" height="19.80"/>
<rect x="1042.0" y="684.6" width="19.80" height="19.80"/>
<rect x="1047.7" y="648.4" width="19.80" height="19.80"/>
<rect x="1053.4" y="666.5" width="19.80" height="19.80"/>
<rect x="1059.2" y="662.0" width="19.80" height="19.80"/>
<rect x="1064.9" y="664.7" width="19.80" height="19.80"/>
<rect x="1070.6" y="663.8" width="19.80" height="19.80"/>
<rect x="1076.4" y="673.7" width="19.80" height="19.80"/>
<rect x="1082.1" y="673.7" width="19.80" height="19.80"/>
<rect x="1087.8" y="675.5" width="19.80" height="19.80"/>
<rect x="1093.6" y="677.3" width="19.80" height="19.80"/>
<rect x="1099.3" y="678.2" width="19.80" height="19.80"/>
<rect x="1105.0" y="680.1" width="19.80" height="19.80"/>
<rect x="1110.8" y="680.1" width="19.80" height="19.80"/>
<rect x="1116.5" y="681.0" width="19.80" height="19.80"/>
<rect x="1122.2" y="681.9" width="19.80" height="19.80"/>
<rect x="1127.9" y="682.8" width="19.80" height="19.80"/>
<rect x="1133.7" y="683.7" width="19.80" height="19.80"/>
<rect x="1139.4" y="684.6" width="19.80" height="19.80"/>
<rect x="1145.1" y="685.5" width="19.80" height="19.80"/>
<rect x="1150.9" y="687.3" width="19.80" height="19.80"/>
<rect x="1156.6" y="689.1" width="19.80" height="19.80"/>
<rect x="1162.3" y="690.9" width="19.80" height="19.80"/>
<rect x="1168.0" y="692.7" width="19.80" height="19.80"/>
<rect x="1173.8" y="696.3" width="19.80" height="19.80"/>
<rect x="1179.5" y="705.4" width="19.80" height="19.80"/>
<rect x="1185.2" y="721.7" width="19.80" height="19.80"/>
<rect x="1191.0" y="735.3" width="19.80" height="19.80"/>
<rect x="1196.7" y="757.9" width="19.80" height="19.80"/>
<rect x="1202.4" y="767.8" width="19.80" height="19.80"/>
<rect x="1208.2" y="768.7" width="19.80" height="19.80"/>
<rect x="1213.9" y="769.6" width="19.80" height="19.80"/>
<rect x="1219.6" y="770.6" width="19.80" height="19.80"/>
<rect x="1225.3" y="763.3" width="19.80" height="19.80"/>
<rect x="1231.1" y="770.6" width="19.80" height="19.80"/>
<rect x="1236.8" y="771.5" width="19.80" height="19.80"/>
<rect x="1242.5" y="774.2" width="19.80" height="19.80"/>
<rect x="1248.3" y="772.4" width="19.80" height="19.80"/>
<rect x="1254.0" y="773.3" width="19.80" height="19.80"/>
<rect x="1259.7" y="775.1" width="19.80" height="19.80"/>
<rect x="1265.5" y="772.4" width="19.80" height="19.80"/>
<rect x="1271.2" y="774.2" width="19.80" height="19.80"/>
<rect x="1276.9" y="775.1" width="19.80" height="19.80"/>
<rect x="1282.6" y="773.3" width="19.80" height="19.80"/>
<rect x="1288.4" y="774.2" width="19.80" height="19.80"/>
<rect x="1294.1" y="775.1" width="19.80" height="19.80"/>
<rect x="1299.8" y="772.4" width="19.80" height="19.80"/>
<rect x="1305.6" y="762.4" width="19.80" height="19.80"/>
<rect x="1311.3" y="774.2" width="19.80" height="19.80"/>
<rect x="1317.0" y="773.3" width="19.80" height="19.80"/>
<rect x="1322.8" y="762.4" width="19.80" height="19.80"/>
<rect x="1328.5" y="773.3" width="19.80" height="19.80"/>
<rect x="1334.2" y="774.2" width="19.80" height="19.80"/>
<rect x="1339.9" y="772.4" width="19.80" height="19.80"/>
<rect x="1345.7" y="775.1" width="19.80" height="19.80"/>
<rect x="1351.4" y="774.2" width="19.80" height="19.80"/>
<rect x="1357.1" y="773.3" width="19.80" height="19.80"/>
<rect x="1362.9" y="775.1" width="19.80" height="19.80"/>
<rect x="1368.6" y="774.2" width="19.80" height="19.80"/>
<rect x="1374.3" y="776.0" width="19.80" height="19.80"/>
</g></g>
<text transform="matrix(1.0093 0 0 1 20.11 40.5)" font-size="59" xml:space="preserve">a</text>
<text transform="matrix(0.9283 0 0 1 741.80 40.5)" font-size="59" xml:space="preserve">b</text>
<text x="100.5" y="839" font-size="47" text-anchor="middle" >-1.0</text>
<text x="243.6" y="839" font-size="47" text-anchor="middle" >-0.5</text>
<text x="386.8" y="839" font-size="47" text-anchor="middle" >0.0</text>
<text x="529.9" y="839" font-size="47" text-anchor="middle" >0.5</text>
<text x="673.0" y="839" font-size="47" text-anchor="middle" >1.0</text>
<text x="817.5" y="839" font-size="47" text-anchor="middle" >-1.0</text>
<text x="960.8" y="839" font-size="47" text-anchor="middle" >-0.5</text>
<text x="1104.0" y="839" font-size="47" text-anchor="middle" >0.0</text>
<text x="1247.2" y="839" font-size="47" text-anchor="middle" >0.5</text>
<text x="1390.5" y="839" font-size="47" text-anchor="middle" >1.0</text>
<text x="86.5" y="78.3" font-size="47" text-anchor="end" >1</text>
<text x="86.5" y="319.6" font-size="47" text-anchor="end" >0</text>
<text x="86.5" y="561.0" font-size="47" text-anchor="end" >-1</text>
<text x="86.5" y="802.3" font-size="47" text-anchor="end" >-2</text>
<text x="803.5" y="802.3" font-size="47" text-anchor="end" >0</text>
<text x="803.5" y="621.3" font-size="47" text-anchor="end" >2</text>
<text x="803.5" y="440.3" font-size="47" text-anchor="end" >4</text>
<text x="803.5" y="259.3" font-size="47" text-anchor="end" >6</text>
<text x="803.5" y="78.3" font-size="47" text-anchor="end" >8</text>
<text transform="matrix(1.0066 0 0 1 175.54 881.5)" font-size="47.5" xml:space="preserve">Gate Voltage</text>
<text transform="matrix(0.9899 0 0 1 451.38 881.5)" font-size="47.5" font-style="italic" xml:space="preserve">V</text>
<text transform="matrix(1.0043 0 0 1 479.42 900)" font-size="28" xml:space="preserve">GS</text>
<text transform="matrix(0.9976 0 0 1 527.48 881.5)" font-size="47.5" xml:space="preserve">(V)</text>
<text transform="matrix(1.0094 0 0 1 925.26 881)" font-size="42.5" xml:space="preserve">Gate Voltage</text>
<text transform="matrix(1.0574 0 0 1 1169.46 881)" font-size="42.5" font-style="italic" xml:space="preserve">V</text>
<text transform="matrix(1.0047 0 0 1 1196.64 897.5)" font-size="25.5" xml:space="preserve">GS</text>
<text transform="matrix(0.9955 0 0 1 1240.43 881)" font-size="42.5" xml:space="preserve">(V)</text>
<text transform="matrix(0 -1.0640 1 0 33.5 635.80)" font-size="47.5" xml:space="preserve">Extracted</text>
<text transform="matrix(0 -1.0366 1 0 33.5 406.15)" font-size="47.5" font-style="italic" xml:space="preserve">V</text>
<text transform="matrix(0 -1.0277 1 0 51.5 378.44)" font-size="28.5" xml:space="preserve">int</text>
<text transform="matrix(0 -1.0980 1 0 33.5 337.93)" font-size="47.5" xml:space="preserve">(V)</text>
<text transform="matrix(0 -0.9867 1 0 751.7 496.13)" font-size="44.5" xml:space="preserve">d</text>
<text transform="matrix(0 -1.1751 1 0 751.7 474.08)" font-size="44.5" font-style="italic" xml:space="preserve">V</text>
<text transform="matrix(0 -1.0248 1 0 767 442.64)" font-size="26.5" xml:space="preserve">int</text>
<text transform="matrix(0 -1.3562 1 0 751.7 415.09)" font-size="44.5" xml:space="preserve">/</text>
<text transform="matrix(0 -0.9867 1 0 751.7 400.63)" font-size="44.5" xml:space="preserve">d</text>
<text transform="matrix(0 -1.1851 1 0 751.7 379.81)" font-size="44.5" font-style="italic" xml:space="preserve">V</text>
<text transform="matrix(0 -0.9788 1 0 768 346.82)" font-size="26.5" xml:space="preserve">GS</text>
<text transform="matrix(1.0036 0 0 1 114.85 110)" font-size="38" xml:space="preserve">NC FET</text>
<text transform="matrix(1.0341 0 0 1 116.97 158.4)" font-size="38" font-style="italic" xml:space="preserve">V</text>
<text transform="matrix(0.9739 0 0 1 140.93 173)" font-size="23.5" xml:space="preserve">DS</text>
<text transform="matrix(1.0198 0 0 1 176.89 158.4)" font-size="38" xml:space="preserve">= - 0.05 V</text>
<text transform="matrix(1.0078 0 0 1 346.67 568)" font-size="34" xml:space="preserve">NC device</text>
<line x1="347.0" x2="424.0" y1="599.8" y2="599.8" stroke="#0000ff" stroke-width="6" stroke-linecap="round"/>
<circle cx="385.4" cy="599.8" r="12.05" fill="#0000ff" stroke="#0000ff" stroke-width="1.5"/>
<text transform="matrix(1.0029 0 0 1 433.40 610.6)" font-size="34" xml:space="preserve">40 min forward</text>
<line x1="347.0" x2="424.0" y1="643.2" y2="643.2" stroke="#0000ff" stroke-width="6" stroke-linecap="round"/>
<circle cx="385.4" cy="643.2" r="10.50" fill="#fff" stroke="#0000ff" stroke-width="3.8"/>
<text transform="matrix(1.0082 0 0 1 433.40 654.2)" font-size="34" xml:space="preserve">40 min reverse</text>
<line x1="347.0" x2="424.0" y1="686.7" y2="686.7" stroke="#ff8000" stroke-width="6" stroke-linecap="round"/>
<rect x="374.70" y="676.00" width="21.40" height="21.40" fill="#ff8000" stroke="#ff8000" stroke-width="1.5" stroke-linejoin="miter"/>
<text transform="matrix(1.0057 0 0 1 432.77 698)" font-size="34" xml:space="preserve">60 min forward</text>
<line x1="347.0" x2="424.0" y1="730.4" y2="730.4" stroke="#ff8000" stroke-width="6" stroke-linecap="round"/>
<rect x="375.85" y="720.85" width="19.10" height="19.10" fill="#fff" stroke="#ff8000" stroke-width="3.8" stroke-linejoin="miter"/>
<text transform="matrix(1.0084 0 0 1 432.77 741.6)" font-size="34" xml:space="preserve">60 min  reverse</text>
<text transform="matrix(1.0037 0 0 1 1053.37 95.7)" font-size="34" xml:space="preserve">NC device</text>
<line x1="1054.0" x2="1130.6" y1="127.7" y2="127.7" stroke="#0000ff" stroke-width="6" stroke-linecap="round"/>
<circle cx="1092.3" cy="127.7" r="12.05" fill="#0000ff" stroke="#0000ff" stroke-width="1.5"/>
<text transform="matrix(1.0042 0 0 1 1139.60 138.6)" font-size="34" xml:space="preserve">40 min forward</text>
<line x1="1054.0" x2="1130.6" y1="171.2" y2="171.2" stroke="#0000ff" stroke-width="6" stroke-linecap="round"/>
<circle cx="1092.3" cy="171.2" r="11.50" fill="#fff" stroke="#0000ff" stroke-width="1.8"/>
<text transform="matrix(1.0096 0 0 1 1139.60 182.5)" font-size="34" xml:space="preserve">40 min reverse</text>
<line x1="1054.0" x2="1130.6" y1="215.2" y2="215.2" stroke="#ff8000" stroke-width="6" stroke-linecap="round"/>
<rect x="1081.60" y="204.50" width="21.40" height="21.40" fill="#ff8000" stroke="#ff8000" stroke-width="1.5" stroke-linejoin="miter"/>
<text transform="matrix(1.0070 0 0 1 1138.97 226.5)" font-size="34" xml:space="preserve">60 min forward</text>
<line x1="1054.0" x2="1130.6" y1="259.1" y2="259.1" stroke="#ff8000" stroke-width="6" stroke-linecap="round"/>
<rect x="1081.75" y="248.55" width="21.10" height="21.10" fill="#fff" stroke="#ff8000" stroke-width="1.8" stroke-linejoin="miter"/>
<text transform="matrix(1.0126 0 0 1 1138.96 270.6)" font-size="34" xml:space="preserve">60 min reverse</text>
</svg>
</body></html>
